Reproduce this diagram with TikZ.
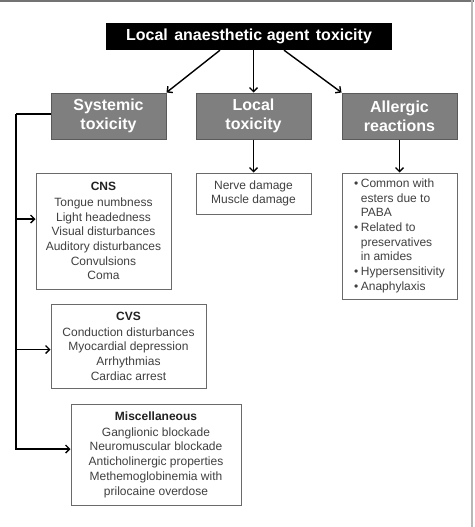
\documentclass[tikz,border=0pt]{standalone}
\usepackage{fontspec}
\setmainfont{Liberation Sans}
\usetikzlibrary{arrows.meta,calc}
\definecolor{hdr}{HTML}{7F7F7F}
\definecolor{hdrline}{HTML}{5A5A5A}
\definecolor{boxline}{HTML}{6A6A6A}
\definecolor{txt}{HTML}{404040}
\definecolor{headtxt}{HTML}{222222}
\begin{document}
\begin{tikzpicture}[x=1pt,y=-1pt,
  titlebox/.style={fill=black,text=white,font=\fontsize{16}{19}\selectfont\bfseries,inner sep=0pt,minimum width=286pt,minimum height=27pt},
  hdrbox/.style={fill=hdr,draw=hdrline,line width=1pt,text=white,font=\fontsize{16}{19}\selectfont\bfseries,align=center,inner sep=0pt,minimum width=115pt,minimum height=46pt},
  itembox/.style={draw=boxline,line width=1pt,text=txt,font=\fontsize{12}{14.7}\selectfont,align=center,inner sep=0pt},
  arr/.style={-{Straight Barb[length=4pt,width=8pt,line width=1.4pt]},line width=1.4pt,black},
  busline/.style={line width=1.4pt,black}]
\useasboundingbox (0,0) rectangle (474,527);
\fill[white] (0,0) rectangle (474,527);
\draw[line width=2.5pt,color=black!55] (0,1) -- (474,1);
\draw[line width=2pt,color=black!28] (472,0) -- (472,527);

\node[titlebox] (title) at (249,36.5) {Local\hspace{2pt} anaesthetic agent\hspace{2pt} toxicity};

\node[hdrbox] (sys) at (108.5,116) {Systemic\\toxicity};
\node[hdrbox] (loc) at (253.5,116) {Local\\toxicity};
\node[hdrbox] (all) at (399.5,116) {Allergic\\reactions};

\node[itembox,minimum width=135pt,minimum height=116pt] (cns) at (103.5,231)
  {{\color{headtxt}\bfseries CNS}\\[1.3pt]Tongue numbness\\Light headedness\\Visual disturbances\\Auditory disturbances\\Convulsions\\Coma};
\node[itembox,minimum width=115pt,minimum height=41pt] (lit) at (253.5,193.5)
  {Nerve damage\\Muscle damage};
\node[itembox,minimum width=115pt,minimum height=126pt,align=left] (ait) at (399.5,236)
  {\begin{tabular}{@{}l@{\hspace{2.5pt}}l@{}}
  \textbullet & Common with\\
   & esters due to\\
   & PABA\\
  \textbullet & Related to\\
   & preservatives\\
   & in amides\\
  \textbullet & Hypersensitivity\\
  \textbullet & Anaphylaxis
  \end{tabular}};
\node[itembox,minimum width=155pt,minimum height=84pt] (cvs) at (128.5,346)
  {{\color{headtxt}\bfseries CVS}\\[1.3pt]Conduction disturbances\\Myocardial depression\\Arrhythmias\\Cardiac arrest};
\node[itembox,minimum width=170pt,minimum height=101pt] (misc) at (156,454.5)
  {{\color{headtxt}\bfseries Miscellaneous}\\[1.3pt]Ganglionic blockade\\Neuromuscular blockade\\Anticholinergic properties\\Methemoglobinemia with\\prilocaine overdose};

\draw[arr] ($(title.south)+(-29,0)$) -- (sys.north east);
\draw[arr] (title.south -| loc.north) -- (loc.north);
\draw[arr] ($(title.south)+(35,0)$) -- (all.north west);
\draw[arr] (loc.south) -- (lit.north);
\draw[arr] (all.south) -- (ait.north);

\coordinate (bus) at (16,114);
\coordinate (cnsin) at ($(cns.west)+(0,-12)$);
\coordinate (cvsin) at ($(cvs.west)+(0,3.5)$);
\coordinate (miscin) at ($(misc.west)+(0,-5.5)$);
\draw[busline] (sys.west |- bus) -- (bus);
\draw[arr] (bus) |- (miscin);
\draw[arr] (bus |- cnsin) -- (cnsin);
\draw[arr] (bus |- cvsin) -- (cvsin);
\end{tikzpicture}
\end{document}
